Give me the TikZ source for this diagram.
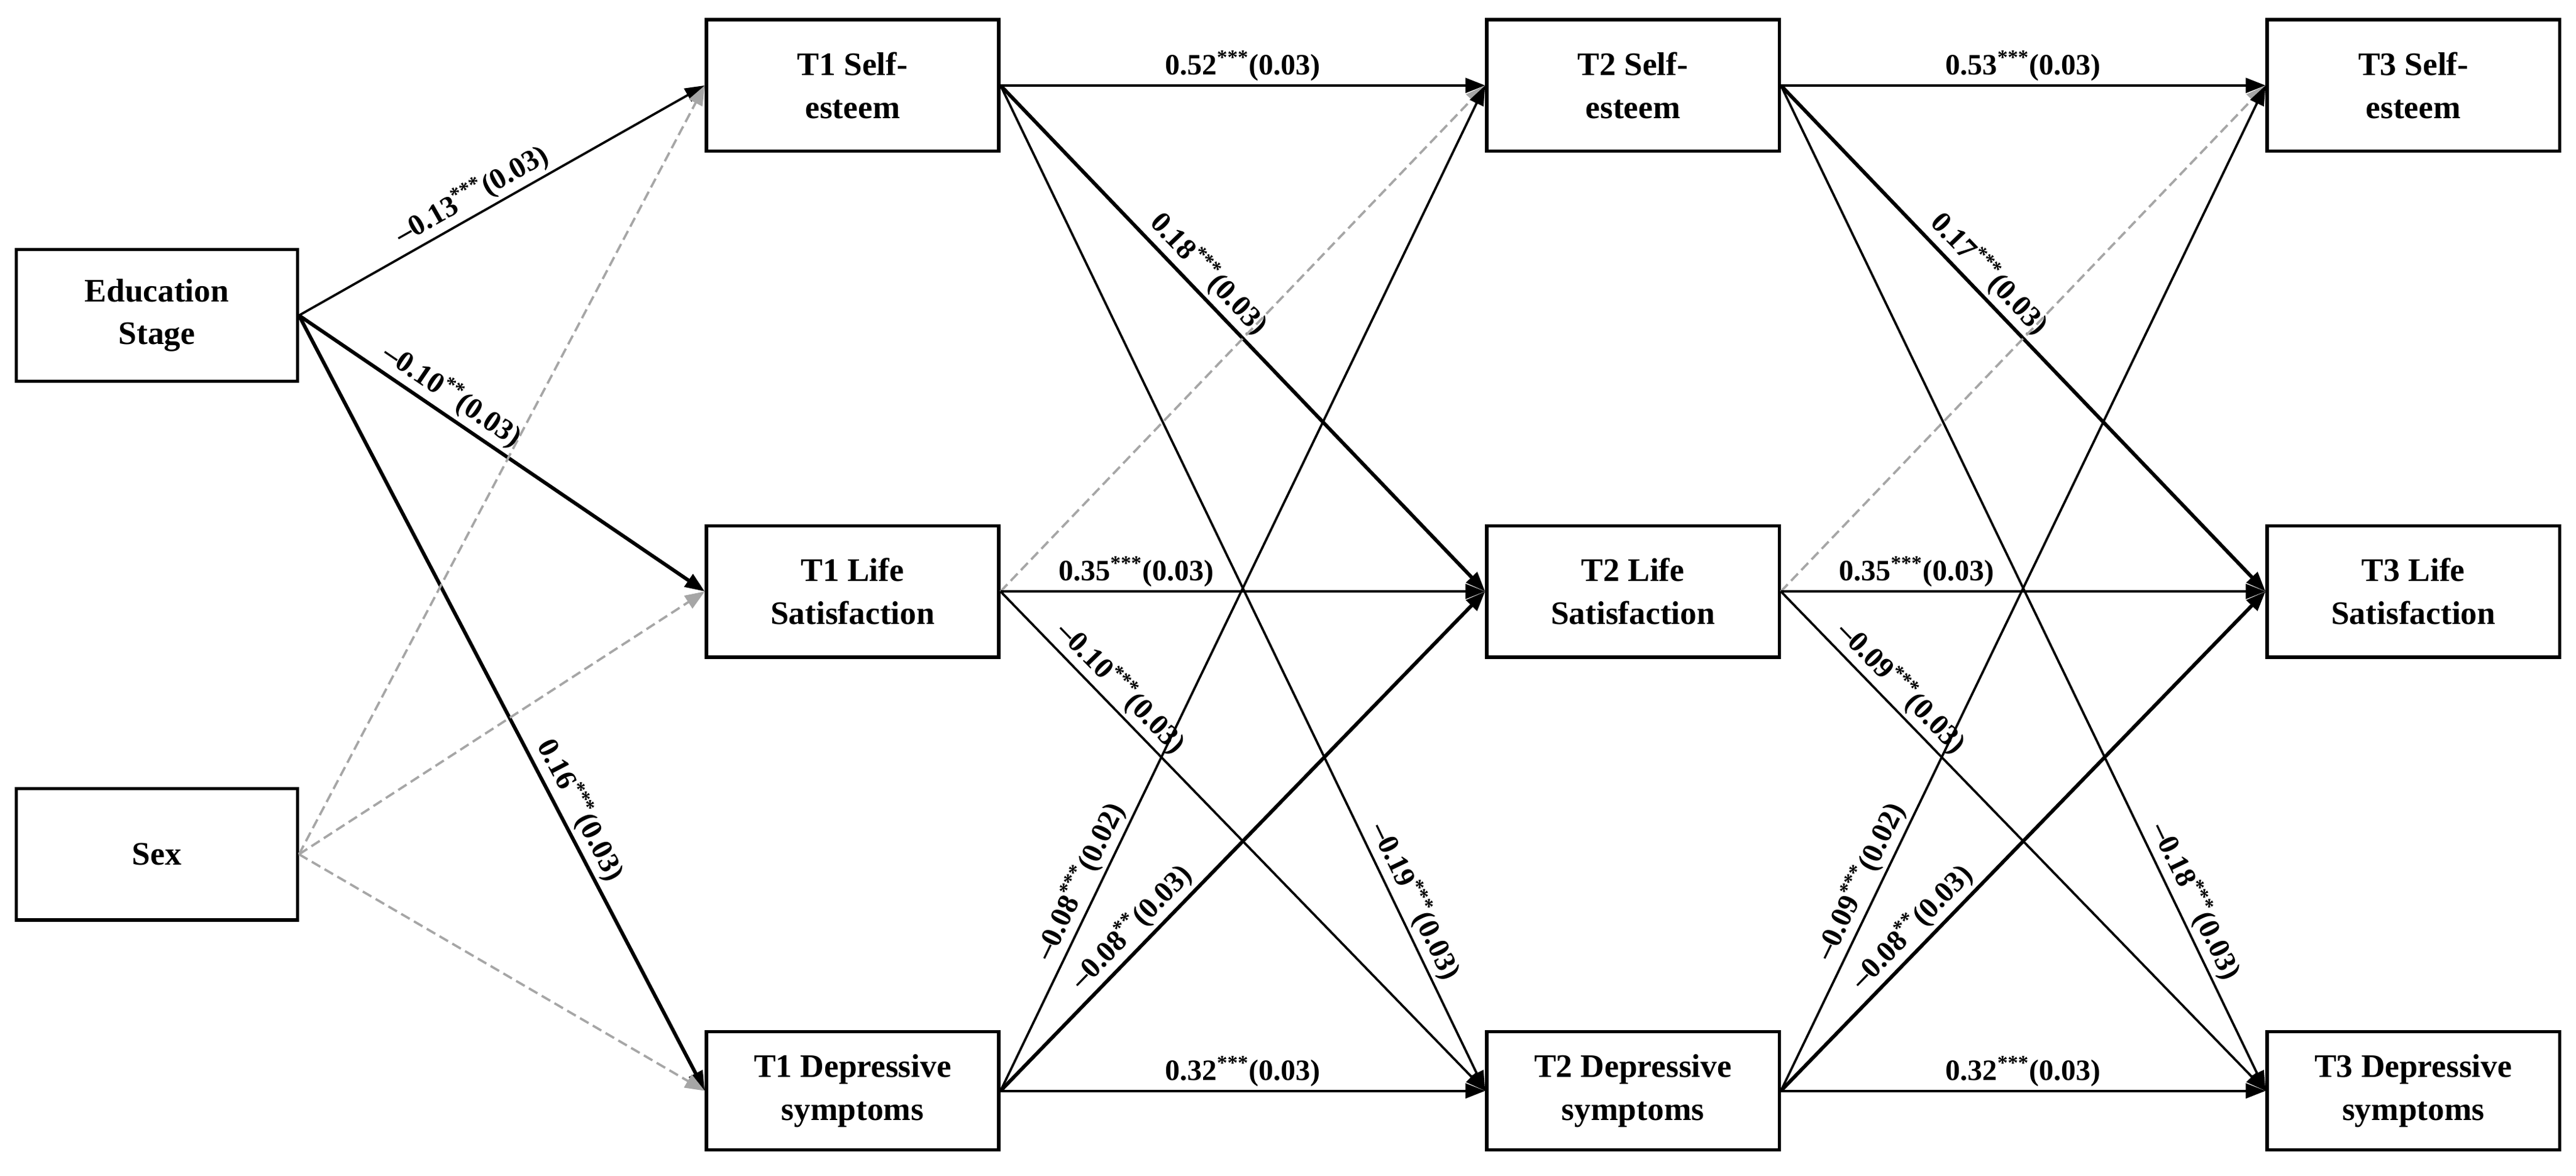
\documentclass[tikz,border=0pt]{standalone}
\usepackage{fontspec}
\setmainfont{Liberation Serif}
\usetikzlibrary{arrows.meta}
\newcommand{\stt}[1]{\textsuperscript{#1}}
\begin{document}
\begin{tikzpicture}[x=1pt,y=-1pt,
 box/.style={draw,line width=2pt,minimum width=178pt,minimum height=80pt,align=center,font=\fontsize{20}{26}\selectfont\bfseries,inner sep=0pt},
 arr/.style={-{Triangle[length=12pt,width=9pt]},line width=1.4pt},
 thk/.style={arr,line width=2.2pt},
 dsh/.style={-{Triangle[length=12pt,width=9pt]},line width=1.4pt,gray!70,dashed,dash pattern=on 6pt off 3pt},
 lab/.style={sloped,above,font=\fontsize{18}{20}\selectfont\bfseries,inner sep=2pt}]
\useasboundingbox (0,0) rectangle (1568,715.5);
\node[box,minimum width=171pt] (edu) at (95.5,192) {Education\\Stage};
\node[box,minimum width=171pt] (sex) at (95.5,520) {Sex};
\node[box] (a1) at (519,52) {T1 Self-\\esteem};
\node[box] (b1) at (519,360) {T1 Life\\Satisfaction};
\node[box,minimum height=72pt] (c1) at (519,664) {T1 Depressive\\symptoms};
\node[box] (a2) at (994,52) {T2 Self-\\esteem};
\node[box] (b2) at (994,360) {T2 Life\\Satisfaction};
\node[box,minimum height=72pt] (c2) at (994,664) {T2 Depressive\\symptoms};
\node[box] (a3) at (1469,52) {T3 Self-\\esteem};
\node[box] (b3) at (1469,360) {T3 Life\\Satisfaction};
\node[box,minimum height=72pt] (c3) at (1469,664) {T3 Depressive\\symptoms};
\draw[arr] (edu.east) -- node[lab,pos=0.45]{–0.13\stt{***}(0.03)} (a1.west);
\draw[thk] (edu.east) -- node[lab,pos=0.35]{–0.10\stt{**}(0.03)} (b1.west);
\draw[thk] (edu.east) -- node[lab,pos=0.65]{0.16\stt{***}(0.03)} (c1.west);
\draw[dsh] (sex.east) -- (a1.west);
\draw[dsh] (sex.east) -- (b1.west);
\draw[dsh] (sex.east) -- (c1.west);
\foreach \i/\j/\ss/\sl/\sd/\ll/\ld/\ds/\dl/\dd in
 {1/2/0.52/0.18/–0.19/0.35/–0.10/–0.08/–0.08/0.32,
  2/3/0.53/0.17/–0.18/0.35/–0.09/–0.09/–0.08/0.32}{
 \draw[arr] (a\i.east) -- node[lab]{\ss\stt{***}(0.03)} (a\j.west);
 \draw[thk] (a\i.east) -- node[lab,pos=0.4]{\sl\stt{***}(0.03)} (b\j.west);
 \draw[arr] (a\i.east) -- node[lab,pos=0.82]{\sd\stt{***}(0.03)} (c\j.west);
 \draw[dsh] (b\i.east) -- (a\j.west);
 \draw[arr] (b\i.east) -- node[lab,pos=0.28]{\ll\stt{***}(0.03)} (b\j.west);
 \draw[arr] (b\i.east) -- node[lab,pos=0.22]{\ld\stt{***}(0.03)} (c\j.west);
 \draw[arr] (c\i.east) -- node[lab,pos=0.2]{\ds\stt{***}(0.02)} (a\j.west);
 \draw[thk] (c\i.east) -- node[lab,pos=0.3]{\dl\stt{**}(0.03)} (b\j.west);
 \draw[arr] (c\i.east) -- node[lab]{\dd\stt{***}(0.03)} (c\j.west);
}
\end{tikzpicture}
\end{document}
